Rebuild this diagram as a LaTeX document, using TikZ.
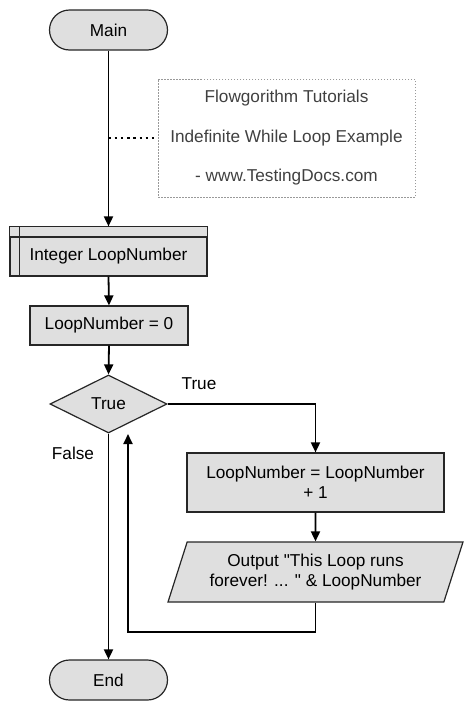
\documentclass[tikz,border=0pt]{standalone}
\usepackage{fontspec}
\setmainfont{Liberation Sans}[Ligatures=TeXOff]
\usetikzlibrary{shapes.geometric,shapes.misc,arrows.meta}
\definecolor{boxfill}{HTML}{DFDFDF}
\definecolor{notetext}{HTML}{404040}
\begin{document}
\begin{tikzpicture}[x=1pt,y=-1pt,
  font=\fontsize{17.2}{20}\selectfont,
  shapebase/.style={draw=black!85, fill=boxfill, line width=1.2pt, inner sep=0pt, align=center},
  term/.style={shapebase, rounded rectangle, minimum width=118pt, minimum height=40pt},
  proc/.style={shapebase, rectangle},
  arr/.style={-{Triangle[length=10pt,width=9pt]}, line width=1.8pt, black}
]
\useasboundingbox (0,0) rectangle (474,710);

\node[term] (main) at (108.5,30) {Main};

\node[draw=gray!80, line width=1pt, dash pattern=on 1.5pt off 1.5pt,
      minimum width=257pt, minimum height=118pt, inner sep=0pt,
      text=notetext, align=center, font=\fontsize{17.2}{39.5}\selectfont]
      (note) at (286.5,138) {Flowgorithm Tutorials\\Indefinite While Loop Example\\- www.TestingDocs.com};

\coordinate (tap) at (108.5,138);
\draw[line width=2.2pt, dash pattern=on 2.5pt off 3.7pt] (tap) -- (note.west);

\node[proc, minimum width=197pt, minimum height=39pt] (decl) at (108.5,256.5) {Integer LoopNumber};
\draw[proc] ([yshift=10pt]decl.north west) rectangle (decl.north east);
\draw[black!85, line width=1.2pt] ([xshift=10pt,yshift=10pt]decl.north west) -- ([xshift=10pt]decl.south west);

\node[proc, minimum width=158pt, minimum height=39pt] (init) at (109,325.5) {LoopNumber = 0};

\node[shapebase, diamond, minimum width=117pt, minimum height=58pt] (cond) at (108.5,404) {True};

\node[proc, minimum width=257pt, minimum height=59pt] (inc) at (315.5,482.5) {LoopNumber = LoopNumber\\+ 1};

\node[shapebase, trapezium, trapezium left angle=62, trapezium right angle=118,
      trapezium stretches body, minimum width=295pt, minimum height=60pt] (out) at (315.5,572)
      {Output "This Loop runs\\forever! ... " \& LoopNumber};

\node[term] (end) at (108.5,680) {End};

\node (tlabel) at (199,384) {True};
\node (flabel) at (73,453) {False};

\draw[arr] (main.south) -- ([yshift=10pt]decl.north);
\draw[arr] (decl.south) -- (init.north);
\draw[arr] (init.south) -- (cond.north);
\draw[arr] (cond.east) -| (inc.north);
\draw[arr] (inc.south) -- (out.south |- out.north);
\coordinate (loopend) at (128,434);
\draw[arr] (out.south) -- ++(0,29) -| (loopend);
\draw[arr] (cond.south) -- (end.north);
\end{tikzpicture}
\end{document}
